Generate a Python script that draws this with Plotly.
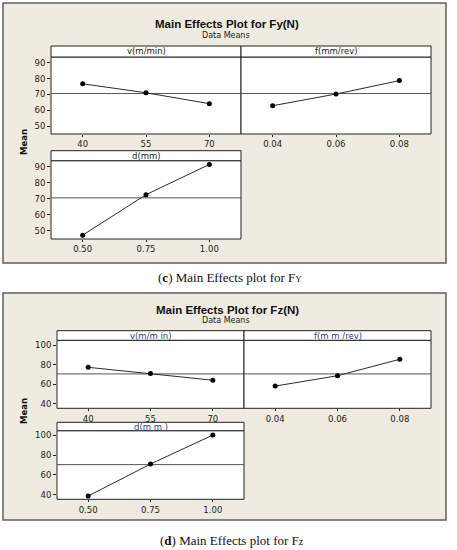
import plotly.graph_objects as go

W, H = 457, 550

# ---- data ----
v_levels = ["40", "55", "70"]
f_levels = ["0.04", "0.06", "0.08"]
d_levels = ["0.50", "0.75", "1.00"]

fy_v = [76.8, 71.1, 64.2]
fy_f = [62.9, 70.3, 78.8]
fy_d = [47.4, 72.6, 91.4]

fz_v = [77.2, 70.8, 64.0]
fz_f = [58.0, 68.6, 85.4]
fz_d = [38.6, 71.0, 100.4]

strip_labels = ["v(m/min)", "f(mm/rev)", "d(mm)"]
fz_strip_labels = ["v(m/m in)", "f(m m /rev)", "d(m m )"]


def px(x):
    return x / W


def py(y):
    return 1 - y / H


fig = go.Figure()
shapes = []
annotations = []

BEIGE = "#EFEBE1"
TICKFONT = dict(family="DejaVu Sans", size=8.5, color="#222")

# outer boxes
for (y0, y1) in [(3, 263), (293, 520)]:
    shapes.append(dict(type="rect", xref="paper", yref="paper",
                       x0=px(3), x1=px(446), y0=py(y1), y1=py(y0),
                       fillcolor=BEIGE, line=dict(color="#606060", width=1.5),
                       layer="below"))

panels = [
    (51, 241, 46, 57, 134, v_levels, fy_v, strip_labels[0], [45, 93.75], 10, True, "fy"),
    (241, 431, 46, 57, 134, f_levels, fy_f, strip_labels[1], [45, 93.75], 10, False, "fy"),
    (51, 241, 150.7, 160.7, 239, d_levels, fy_d, strip_labels[2], [45, 93.75], 10, True, "fy"),
    (57, 244, 330.7, 340.3, 408.3, v_levels, fz_v, fz_strip_labels[0], [35.3, 104.8], 20, True, "fz"),
    (244, 431, 330.7, 340.3, 408.3, f_levels, fz_f, fz_strip_labels[1], [35.3, 104.8], 20, False, "fz"),
    (57, 244, 422.3, 430.7, 499.3, d_levels, fz_d, fz_strip_labels[2], [35.3, 104.8], 20, True, "fz"),
]

grand = {
    "fy": sum(fy_v + fy_f + fy_d) / 9.0,
    "fz": sum(fz_v + fz_f + fz_d) / 9.0,
}

layout_axes = {}
for i, (x0, x1, st, pt, pb, levels, vals, lab, yr, dt, showy, grp) in enumerate(panels, start=1):
    xa = "x" if i == 1 else f"x{i}"
    ya = "y" if i == 1 else f"y{i}"
    fig.add_trace(go.Scatter(
        x=levels, y=vals, mode="lines+markers", xaxis=xa, yaxis=ya,
        line=dict(color="#2a2a2a", width=1),
        marker=dict(color="black", size=5),
        showlegend=False, hoverinfo="x+y"))
    xkey = "xaxis" if i == 1 else f"xaxis{i}"
    ykey = "yaxis" if i == 1 else f"yaxis{i}"
    layout_axes[xkey] = dict(
        domain=[px(x0), px(x1)], anchor=ya, type="category",
        range=[-0.5, 2.5], showgrid=False, zeroline=False,
        showline=False, ticks="outside", ticklen=2, tickcolor="#222",
        tickfont=TICKFONT, fixedrange=True)
    layout_axes[ykey] = dict(
        domain=[py(pb), py(pt)], anchor=xa, range=yr, dtick=dt,
        tick0=0, showgrid=False, zeroline=False, showline=False,
        ticks="outside" if showy else "", ticklen=3, tickcolor="#222",
        showticklabels=showy, tickfont=TICKFONT, fixedrange=True)
    # plot area
    shapes.append(dict(type="rect", xref="paper", yref="paper",
                       x0=px(x0), x1=px(x1), y0=py(pb), y1=py(pt),
                       fillcolor="white", line=dict(color="#222", width=1),
                       layer="below"))
    # strip
    shapes.append(dict(type="rect", xref="paper", yref="paper",
                       x0=px(x0), x1=px(x1), y0=py(pt), y1=py(st),
                       fillcolor="white", line=dict(color="#222", width=1),
                       layer="below"))
    # grand mean reference line
    shapes.append(dict(type="line", xref=f"{xa} domain", yref=ya,
                       x0=0, x1=1, y0=grand[grp], y1=grand[grp],
                       line=dict(color="#555", width=1), layer="below"))
    annotations.append(dict(
        text=lab, xref="paper", yref="paper", x=px((x0 + x1) / 2),
        y=py((st + pt) / 2), showarrow=False, xanchor="center", yanchor="middle",
        font=dict(family="DejaVu Sans", size=8.5,
                  color="#222" if grp == "fy" else "#34407a")))

# titles
for (title, ty, sy) in [("Main Effects Plot for Fy(N)", 23.5, 35.5),
                        ("Main Effects Plot for Fz(N)", 309.5, 320.5)]:
    annotations.append(dict(text="<b>" + title + "</b>", xref="paper", yref="paper",
                            x=px(227), y=py(ty), showarrow=False,
                            xanchor="center", yanchor="middle",
                            font=dict(family="Liberation Sans", size=11.5, color="#111")))
    annotations.append(dict(text="Data Means", xref="paper", yref="paper",
                            x=px(226), y=py(sy), showarrow=False,
                            xanchor="center", yanchor="middle",
                            font=dict(family="DejaVu Sans", size=8, color="#222")))

# Mean axis labels
for my in [142, 411]:
    annotations.append(dict(text="<b>Mean</b>", xref="paper", yref="paper",
                            x=px(24), y=py(my), showarrow=False, textangle=-90,
                            xanchor="center", yanchor="middle",
                            font=dict(family="DejaVu Sans", size=8.5, color="#111")))

# captions
annotations.append(dict(text="(<b>c</b>) Main Effects plot for F<span style='font-size:9px'>Y</span>",
                        xref="paper", yref="paper", x=px(230), y=py(277),
                        showarrow=False, xanchor="center", yanchor="middle",
                        font=dict(family="Liberation Serif", size=13, color="#111")))
annotations.append(dict(text="(<b>d</b>) Main Effects plot for F<span style='font-size:10px'>z</span>",
                        xref="paper", yref="paper", x=px(232), y=py(540.5),
                        showarrow=False, xanchor="center", yanchor="middle",
                        font=dict(family="Liberation Serif", size=13, color="#111")))

fig.update_layout(
    width=W, height=H, autosize=False,
    margin=dict(l=0, r=0, t=0, b=0),
    paper_bgcolor="white", plot_bgcolor="rgba(0,0,0,0)",
    shapes=shapes, annotations=annotations,
    **layout_axes)

fig.write_html("out.html", config={"displayModeBar": False},
               post_script="document.body.style.margin='0';document.body.style.overflow='hidden';")
